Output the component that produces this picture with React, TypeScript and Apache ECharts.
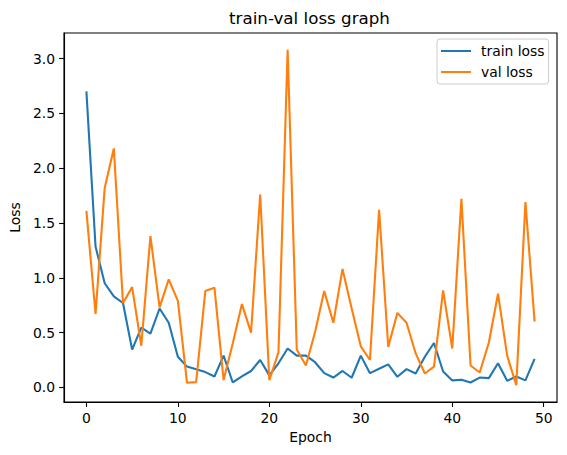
import React, { useEffect, useRef } from "react";
import * as echarts from "echarts";

const epochs = Array.from({ length: 50 }, (_, i) => i);
const trainLoss = [
  2.7, 1.285, 0.95, 0.83, 0.77, 0.345, 0.545, 0.49, 0.72, 0.59,
  0.28, 0.19, 0.165, 0.14, 0.1, 0.29, 0.045, 0.1, 0.15, 0.25,
  0.11, 0.22, 0.355, 0.29, 0.29, 0.23, 0.13, 0.09, 0.15, 0.088,
  0.29, 0.13, 0.17, 0.21, 0.097, 0.167, 0.127, 0.28, 0.405, 0.145,
  0.064, 0.07, 0.045, 0.09, 0.085, 0.22, 0.06, 0.1, 0.064, 0.26,
];
const valLoss = [
  1.61, 0.67, 1.82, 2.18, 0.77, 0.915, 0.38, 1.38, 0.73, 0.985,
  0.79, 0.042, 0.048, 0.88, 0.91, 0.067, 0.4, 0.76, 0.5, 1.76,
  0.067, 0.32, 3.08, 0.345, 0.2, 0.505, 0.88, 0.59, 1.08, 0.72,
  0.375, 0.25, 1.62, 0.37, 0.68, 0.59, 0.31, 0.127, 0.19, 0.885,
  0.355, 1.72, 0.2, 0.136, 0.41, 0.855, 0.29, 0.02, 1.69, 0.6,
];
const xTicks = [0, 10, 20, 30, 40, 50];
const yTicks = [0, 0.5, 1.0, 1.5, 2.0, 2.5, 3.0];

const FONT = "DejaVu Sans";

export default function App() {
  const ref = useRef<HTMLDivElement>(null);
  useEffect(() => {
    if (!ref.current) return;
    const chart = echarts.init(ref.current, undefined, { renderer: "svg" });
    const axisCommon = {
      axisLine: { show: true, onZero: false, lineStyle: { color: "#000", width: 1.1 } },
      axisTick: { show: true, length: 4.9, lineStyle: { color: "#000", width: 1.1 } },
      splitLine: { show: false },
      nameTextStyle: { color: "#000", fontFamily: FONT, fontSize: 13.9 },
    };
    chart.setOption({
      animation: false,
      backgroundColor: "#fff",
      title: {
        text: "train-val loss graph",
        left: 309.5,
        top: 9,
        padding: 0,
        textAlign: "center",
        textStyle: { color: "#000", fontFamily: FONT, fontSize: 16.7, fontWeight: "normal" },
      },
      legend: {
        orient: "vertical",
        left: 437,
        top: 39,
        padding: [5, 4, 5, 4],
        itemGap: 7,
        itemWidth: 30,
        itemHeight: 2,
        icon: "rect",
        borderColor: "#ccc",
        borderWidth: 1,
        borderRadius: 3,
        backgroundColor: "rgba(255,255,255,0.8)",
        textStyle: { color: "#000", fontFamily: FONT, fontSize: 13.9, padding: [0, 0, 0, 5] },
        data: ["train loss", "val loss"],
      },
      grid: {
        left: 62,
        top: 33,
        width: 495,
        height: 369,
        show: true,
        borderColor: "#000",
        borderWidth: 1.1,
        containLabel: false,
      },
      xAxis: {
        type: "value",
        min: -2.45,
        max: 51.45,
        name: "Epoch",
        nameLocation: "middle",
        nameGap: 28,
        ...axisCommon,
        axisTick: { ...axisCommon.axisTick, customValues: xTicks },
        axisLabel: {
          customValues: xTicks,
          color: "#000",
          fontFamily: FONT,
          fontSize: 13.9,
          margin: 9,
          formatter: (v: number) => String(v),
        },
      },
      yAxis: {
        type: "value",
        min: -0.133,
        max: 3.233,
        name: "Loss",
        nameLocation: "middle",
        nameGap: 39,
        ...axisCommon,
        axisTick: { ...axisCommon.axisTick, customValues: yTicks },
        axisLabel: {
          customValues: yTicks,
          color: "#000",
          fontFamily: FONT,
          fontSize: 13.9,
          margin: 9,
          formatter: (v: number) => v.toFixed(1),
        },
      },
      series: [
        {
          name: "train loss",
          type: "line",
          data: epochs.map((e, i) => [e, trainLoss[i]]),
          symbol: "none",
          color: "#1f77b4",
          lineStyle: { color: "#1f77b4", width: 2.1 },
        },
        {
          name: "val loss",
          type: "line",
          data: epochs.map((e, i) => [e, valLoss[i]]),
          symbol: "none",
          color: "#ff7f0e",
          lineStyle: { color: "#ff7f0e", width: 2.1 },
        },
      ],
    });
    return () => chart.dispose();
  }, []);
  return (
    <div
      ref={ref}
      style={{ position: "fixed", left: 0, top: 0, width: 567, height: 455 }}
    />
  );
}
